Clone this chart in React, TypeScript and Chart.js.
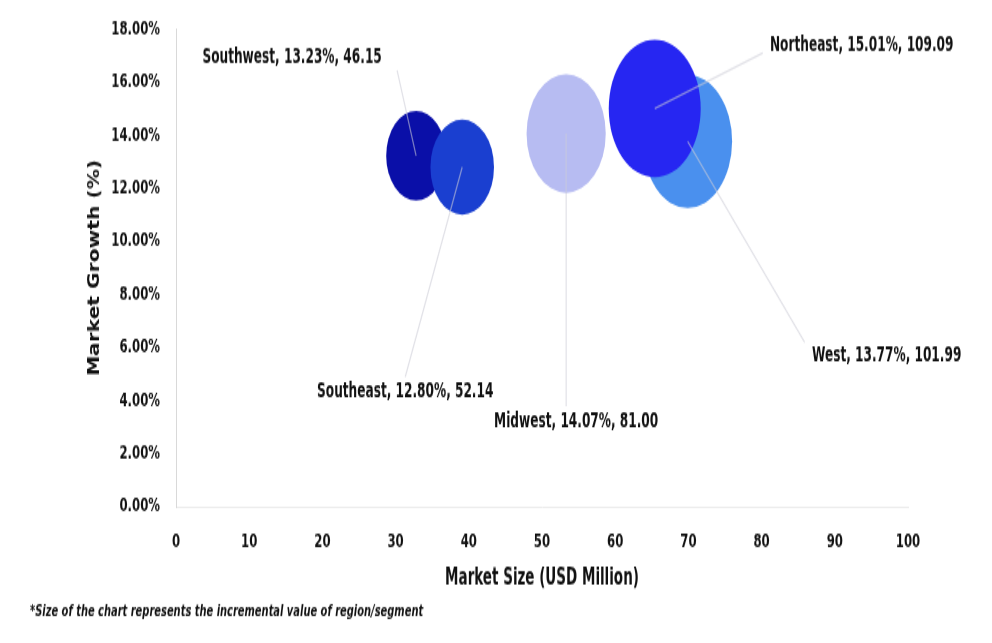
import { useEffect, useRef } from 'react';
import { Chart, registerables } from 'chart.js';

Chart.register(...registerables);

// ---- data ----
const regions = ['Southwest', 'Southeast', 'Midwest', 'West', 'Northeast'];
const marketSize = [32.8, 39.1, 53.3, 69.9, 65.4]; // USD Million (x)
const marketGrowth = [13.23, 12.8, 14.07, 13.77, 15.01]; // % (y)
const incrementalValue = [46.15, 52.14, 81.0, 101.99, 109.09]; // bubble size
const yTickLabels = ['0.00%', '2.00%', '4.00%', '6.00%', '8.00%', '10.00%', '12.00%', '14.00%', '16.00%', '18.00%'];
const xTickLabels = ['0', '10', '20', '30', '40', '50', '60', '70', '80', '90', '100'];
const xTitle = 'Market Size (USD Million)';
const yTitle = 'Market Growth (%)';
const footnote = '*Size of the chart represents the incremental value of region/segment';

// ---- styles ----
// The reference image is a vertically stretched (x1.5) picture of the chart:
// the chart is drawn at 992x429 and the canvas is displayed at 992x643.
const W = 992;
const H = 429;
const bubbleColors = ['#0a0fa8', '#1a3fd0', '#b7bcf2', '#4a90ee', '#2626f2'];
const R_K = 4.4;
const FONT = "'DejaVu Sans Condensed', 'DejaVu Sans', sans-serif";
// label / leader-line offsets from bubble centre (pixels, unstretched)
const labelOffsets = [
  [-124, -65],
  [-57, 150],
  [10, 192],
  [199, 143],
  [207, -42],
];
const lineEnds = [
  [-19, -57],
  [-57, 140],
  [0, 182],
  [117, 134],
  [108, -37],
];

export default function App() {
  const ref = useRef<HTMLCanvasElement>(null);

  useEffect(() => {
    const canvas = ref.current!;

    const labelPlugin = {
      id: 'bubbleLabels',
      afterDatasetsDraw(chart: any) {
        const ctx = chart.ctx;
        const meta = chart.getDatasetMeta(0);
        ctx.save();
        meta.data.forEach((el: any, i: number) => {
          const { x, y } = el.getProps(['x', 'y'], true);
          ctx.strokeStyle = 'rgba(205,205,215,0.6)';
          ctx.lineWidth = 1.2;
          ctx.beginPath();
          ctx.moveTo(x, y);
          ctx.lineTo(x + lineEnds[i][0], y + lineEnds[i][1]);
          ctx.stroke();
        });
        meta.data.forEach((el: any, i: number) => {
          const { x, y } = el.getProps(['x', 'y'], true);
          const text = `${regions[i]}, ${marketGrowth[i].toFixed(2)}%, ${incrementalValue[i].toFixed(2)}`;
          ctx.font = `bold 13.5px ${FONT}`;
          ctx.fillStyle = '#111';
          ctx.textAlign = 'center';
          ctx.textBaseline = 'middle';
          ctx.fillText(text, x + labelOffsets[i][0], y + labelOffsets[i][1]);
        });
        ctx.restore();
      },
      afterDraw(chart: any) {
        const ctx = chart.ctx;
        ctx.save();
        ctx.font = `italic bold 11px ${FONT}`;
        ctx.fillStyle = '#111';
        ctx.textAlign = 'left';
        ctx.textBaseline = 'middle';
        ctx.fillText(footnote, 30, 408);
        ctx.restore();
      },
    };

    const chart = new Chart(canvas, {
      type: 'bubble',
      data: {
        datasets: [
          {
            label: 'Regions',
            data: regions.map((_, i) => ({
              x: marketSize[i],
              y: marketGrowth[i],
              r: R_K * Math.sqrt(incrementalValue[i]),
            })),
            backgroundColor: bubbleColors,
            borderWidth: 0,
          },
        ],
      },
      options: {
        animation: false,
        responsive: false,
        devicePixelRatio: 1,
        layout: { autoPadding: false, padding: { left: 82, right: 84, top: 19.5, bottom: 30 } },
        plugins: {
          legend: { display: false },
          tooltip: { enabled: false },
        },
        scales: {
          x: {
            type: 'linear',
            min: 0,
            max: 100,
            afterFit: (s: any) => {
              s.height = 61;
              s.paddingLeft = 0;
              s.paddingRight = 0;
            },
            afterBuildTicks: (s: any) => {
              s.ticks = xTickLabels.map((t) => ({ value: Number(t) }));
            },
            ticks: {
              padding: 16,
              color: '#111',
              font: { family: FONT, size: 13, weight: 'bold' },
              callback: (_v: any, i: number) => xTickLabels[i],
            },
            grid: { display: false, drawTicks: false },
            border: { display: true, color: '#ececec', width: 1 },
            title: {
              display: true,
              text: xTitle,
              color: '#111',
              padding: { top: 4, bottom: 4 },
              font: { family: FONT, size: 15, weight: 'bold' },
            },
          },
          y: {
            type: 'linear',
            min: 0,
            max: 18,
            afterFit: (s: any) => {
              s.width = 94;
              s.paddingTop = 0;
              s.paddingBottom = 0;
            },
            afterBuildTicks: (s: any) => {
              s.ticks = yTickLabels.map((t) => ({ value: parseFloat(t) }));
            },
            ticks: {
              padding: 16,
              color: '#111',
              font: { family: FONT, size: 13, weight: 'bold' },
              callback: (_v: any, i: number) => yTickLabels[i],
            },
            grid: { display: false, drawTicks: false },
            border: { display: true, color: '#d9d9d9', width: 1 },
            title: {
              display: true,
              text: yTitle,
              color: '#111',
              padding: { top: 4, bottom: 4 },
              font: { family: FONT, size: 15, weight: 'bold' },
            },
          },
        },
      },
      plugins: [labelPlugin],
    });

    return () => chart.destroy();
  }, []);

  return (
    <div style={{ position: 'fixed', left: 0, top: 0, width: 992, height: 643, background: '#fff' }}>
      <canvas
        ref={ref}
        width={W}
        height={H}
        style={{ display: 'block', width: '992px', height: '643px' }}
      />
    </div>
  );
}
